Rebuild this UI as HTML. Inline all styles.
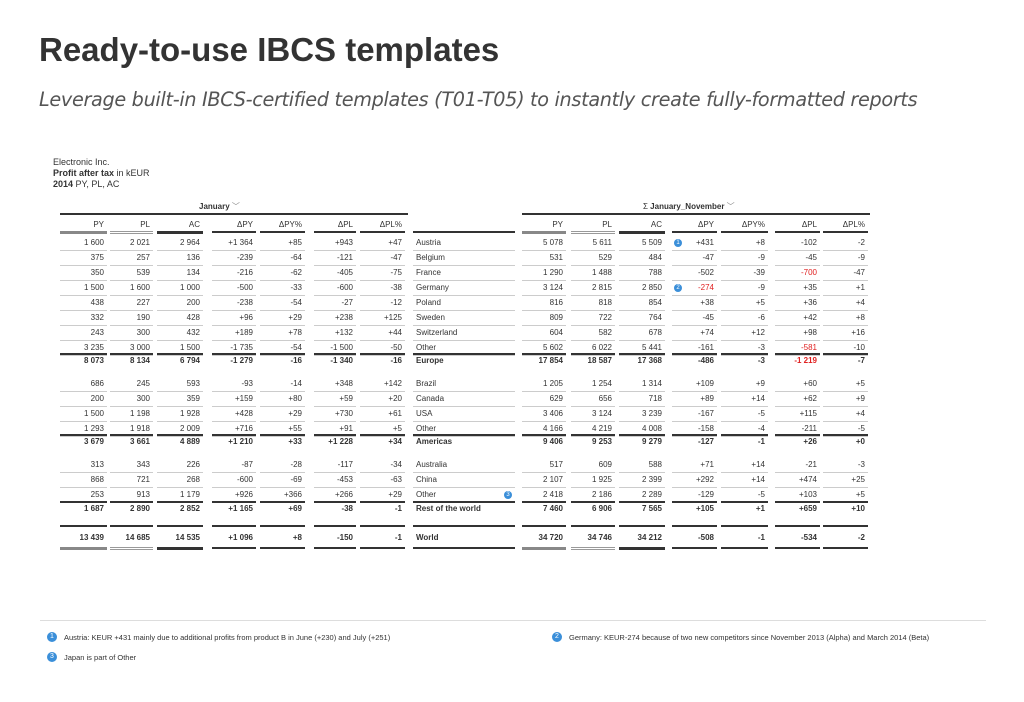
<!DOCTYPE html>
<html><head><meta charset="utf-8"><style>
body{margin:0;width:1024px;height:702px;background:#fff;position:relative;overflow:hidden;font-family:"Liberation Sans",sans-serif;}
.a{position:absolute;white-space:nowrap;}
.c{position:absolute;font-size:8px;color:#333;text-align:right;line-height:10px;}
.l{position:absolute;}
</style></head><body>
<div class="a" style="left:39px;top:31px;font-size:33px;font-weight:bold;color:#333;font-family:'Liberation Sans',sans-serif;">Ready-to-use IBCS templates</div>
<div class="a" style="left:39px;top:88px;font-size:19.2px;font-style:italic;color:#555;font-family:'DejaVu Sans',sans-serif;letter-spacing:-0.3px">Leverage built-in IBCS-certified templates (T01-T05) to instantly create fully-formatted reports</div>
<div class="a" style="left:53px;top:157px;font-size:9px;color:#333;line-height:11px">Electronic Inc.<br><b>Profit after tax</b> in kEUR<br><b>2014</b> PY, PL, AC</div>
<div class="a" style="left:199px;top:201px;font-size:8px;font-weight:bold;color:#333">January <span style="font-weight:normal;color:#888">﹀</span></div>
<div class="a" style="left:643px;top:201px;font-size:8px;font-weight:bold;color:#333"><span style="font-weight:normal">Σ</span> January_November <span style="font-weight:normal;color:#888">﹀</span></div>
<div class="l" style="left:60px;top:213px;width:348px;height:2px;background:#333"></div>
<div class="l" style="left:522px;top:213px;width:348px;height:2px;background:#333"></div>
<div class="l" style="left:40px;top:620px;width:946px;height:1px;background:#ddd"></div>
<div id="t"></div>
<div class="a" style="left:47px;top:632px;width:10px;height:10px;border-radius:50%;background:#3b8fd9;color:#fff;font-size:7px;text-align:center;line-height:10px">1</div>
<div class="a" style="left:64px;top:633px;font-size:7.5px;color:#333">Austria: KEUR +431 mainly due to additional profits from product B in June (+230) and July (+251)</div>
<div class="a" style="left:47px;top:652px;width:10px;height:10px;border-radius:50%;background:#3b8fd9;color:#fff;font-size:7px;text-align:center;line-height:10px">3</div>
<div class="a" style="left:64px;top:653px;font-size:7.5px;color:#333">Japan is part of Other</div>
<div class="a" style="left:552px;top:632px;width:10px;height:10px;border-radius:50%;background:#3b8fd9;color:#fff;font-size:7px;text-align:center;line-height:10px">2</div>
<div class="a" style="left:569px;top:633px;font-size:7.5px;color:#333">Germany: KEUR-274 because of two new competitors since November 2013 (Alpha) and March 2014 (Beta)</div>
<script>
var L=[[60,107],[110,153],[157,203],[212,256],[260,305],[314,356],[360,405]];
var R=[[522,566],[571,615],[619,665],[672,717],[721,768],[775,820],[823,868]];
var N=[413,515];
var H=["PY","PL","AC","ΔPY","ΔPY%","ΔPL","ΔPL%"];
var rows=[
[243,"Austria",["1 600","2 021","2 964","+1 364","+85","+943","+47"],["5 078","5 611","5 509","+431","+8","-102","-2"],0,{b:1}],
[258,"Belgium",["375","257","136","-239","-64","-121","-47"],["531","529","484","-47","-9","-45","-9"],0],
[273,"France",["350","539","134","-216","-62","-405","-75"],["1 290","1 488","788","-502","-39","-700","-47"],0,{r5:1}],
[288,"Germany",["1 500","1 600","1 000","-500","-33","-600","-38"],["3 124","2 815","2 850","-274","-9","+35","+1"],0,{b:2,r3:1}],
[303,"Poland",["438","227","200","-238","-54","-27","-12"],["816","818","854","+38","+5","+36","+4"],0],
[318,"Sweden",["332","190","428","+96","+29","+238","+125"],["809","722","764","-45","-6","+42","+8"],0],
[333,"Switzerland",["243","300","432","+189","+78","+132","+44"],["604","582","678","+74","+12","+98","+16"],0],
[348,"Other",["3 235","3 000","1 500","-1 735","-54","-1 500","-50"],["5 602","6 022","5 441","-161","-3","-581","-10"],0,{r5:1}],
[361,"Europe",["8 073","8 134","6 794","-1 279","-16","-1 340","-16"],["17 854","18 587","17 368","-486","-3","-1 219","-7"],1,{r5:1}],
[384,"Brazil",["686","245","593","-93","-14","+348","+142"],["1 205","1 254","1 314","+109","+9","+60","+5"],0],
[399,"Canada",["200","300","359","+159","+80","+59","+20"],["629","656","718","+89","+14","+62","+9"],0],
[414,"USA",["1 500","1 198","1 928","+428","+29","+730","+61"],["3 406","3 124","3 239","-167","-5","+115","+4"],0],
[429,"Other",["1 293","1 918","2 009","+716","+55","+91","+5"],["4 166","4 219","4 008","-158","-4","-211","-5"],0],
[442,"Americas",["3 679","3 661","4 889","+1 210","+33","+1 228","+34"],["9 406","9 253","9 279","-127","-1","+26","+0"],1],
[465,"Australia",["313","343","226","-87","-28","-117","-34"],["517","609","588","+71","+14","-21","-3"],0],
[480,"China",["868","721","268","-600","-69","-453","-63"],["2 107","1 925","2 399","+292","+14","+474","+25"],0],
[495,"Other",["253","913","1 179","+926","+366","+266","+29"],["2 418","2 186","2 289","-129","-5","+103","+5"],0,{n3:1}],
[509,"Rest of the world",["1 687","2 890","2 852","+1 165","+69","-38","-1"],["7 460","6 906","7 565","+105","+1","+659","+10"],1],
[538,"World",["13 439","14 685","14 535","+1 096","+8","-150","-1"],["34 720","34 746","34 212","-508","-1","-534","-2"],2]
];
var h="";
function ln(x1,x2,y,hh,col){h+='<div class="l" style="left:'+x1+'px;top:'+y+'px;width:'+(x2-x1)+'px;height:'+hh+'px;background:'+col+'"></div>';}
function txt(x1,x2,y,s,bold,red,left){h+='<div class="c" style="left:'+x1+'px;width:'+(x2-x1-3)+'px;top:'+(y-5)+'px;'+(bold?'font-weight:bold;':'')+(red?'color:#e02020;':'')+(left?'text-align:left;padding-left:0;':'')+'">'+s+'</div>';}
function bub(x,y,n){h+='<div class="a" style="left:'+x+'px;top:'+(y-4)+'px;width:8px;height:8px;border-radius:50%;background:#3b8fd9;color:#fff;font-size:6px;text-align:center;line-height:8px">'+n+'</div>';}
function hdrline(C,y){for(var i=0;i<7;i++){var c=C[i];if(i==0)ln(c[0],c[1],y,3,'#888');else if(i==1){ln(c[0],c[1],y,1,'#999');ln(c[0],c[1],y+2,1,'#999');}else if(i==2)ln(c[0],c[1],y,3,'#333');else ln(c[0],c[1],y,2,'#333');}}
[L,R].forEach(function(C){for(var i=0;i<7;i++)txt(C[i][0],C[i][1],225,H[i]);hdrline(C,231);});
ln(N[0],N[1],231,2,'#333');
rows.forEach(function(r){
 var y=r[0],t=r[4],f=r[5]||{};
 if(t>=1){var yy=t==2?525:y-8;[L,R].forEach(function(C){for(var i=0;i<7;i++)ln(C[i][0],C[i][1],yy,2,'#333');});ln(N[0],N[1],yy,2,'#333');}
 for(var i=0;i<7;i++){txt(L[i][0],L[i][1],y,r[2][i],t>=1);txt(R[i][0],R[i][1],y,r[3][i],t>=1,(f.r5&&i==5)||(f.r3&&i==3));}
 txt(N[0]+3,N[1]+3,y,r[1],t>=1,0,1);
 if(t==0){[L,R].forEach(function(C){for(var i=0;i<7;i++)ln(C[i][0],C[i][1],y+7,1,'#ccc');});ln(N[0],N[1],y+7,1,'#ccc');}
 if(t==2){hdrline(L,547);hdrline(R,547);ln(N[0],N[1],547,2,'#333');}
 if(f.b)bub(674,y,f.b);
 if(f.n3)bub(504,y,3);
});
document.getElementById('t').innerHTML=h;
</script>
</body></html>
